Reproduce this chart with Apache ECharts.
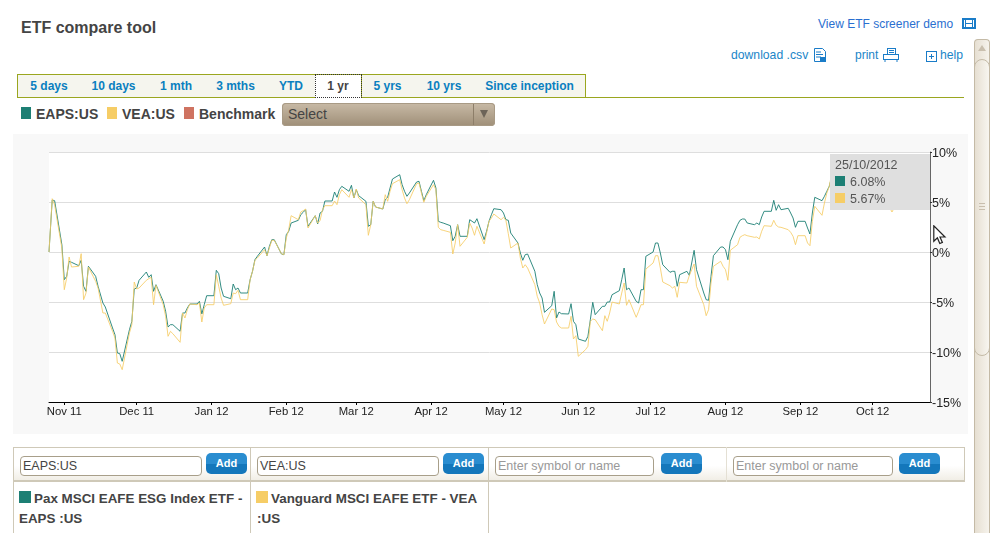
<!DOCTYPE html>
<html><head><meta charset="utf-8"><title>ETF compare tool</title>
<script src="https://cdn.jsdelivr.net/npm/echarts@6/dist/echarts.min.js"></script>
<style>
html,body{margin:0;padding:0;background:#fff;overflow:hidden;width:997px;height:533px;font-family:"Liberation Sans",Arial,sans-serif;}
.a{position:absolute;white-space:nowrap;}
.lnk{color:#1a85c8;font-size:12px;}
.tab{position:absolute;top:74px;height:22px;line-height:23px;text-align:center;font-size:12px;font-weight:bold;color:#0a7fc0;background:#f5f5ee;border:1px solid #9aa61f;border-left:none;box-sizing:content-box;}
.lg{position:absolute;font-size:14px;font-weight:bold;color:#444;top:106px;}
.sq{position:absolute;width:10px;height:12px;}
.inp{position:absolute;top:456px;height:18px;line-height:18px;border:1px solid #a89f8a;border-radius:4px;background:#fff;font-size:12.5px;color:#444;padding-left:2px;box-sizing:content-box;}
.ph{color:#999;}
.add{position:absolute;top:453px;width:41px;height:21px;line-height:20px;text-align:center;border-radius:5px;color:#fff;font-weight:bold;font-size:11px;background:linear-gradient(#2a8dd0 0,#2a8dd0 50%,#1477bb 52%,#1477bb 100%);}
.vl{position:absolute;width:1px;background:#cfc9b8;}
.nm{position:absolute;font-size:13.4px;font-weight:bold;color:#444;}
</style></head><body>
<div class="a" style="left:21px;top:19px;font-size:16px;font-weight:bold;color:#444;">ETF compare tool</div>
<div class="a" style="left:818px;top:17px;font-size:12px;color:#2a6fd0;">View ETF screener demo</div>
<svg class="a" style="left:962px;top:18px" width="14" height="12"><rect x="1" y="1" width="12" height="9" fill="none" stroke="#1a7cc8" stroke-width="2"/><path d="M3.5 1v9M10.5 1v9M4 5.5h6" stroke="#1a7cc8"/></svg>
<div class="a lnk" style="left:731px;top:48px;font-size:12.2px;">download .csv</div>
<svg class="a" style="left:813px;top:48px" width="14" height="15"><path d="M1.5 .5h8l3 3v10h-11z" fill="#fff" stroke="#1a7cc8"/><path d="M3 4h5M3 6.5h7M3 9h5" stroke="#1a7cc8"/><rect x="7" y="9" width="6" height="5" fill="#1a7cc8"/></svg>
<div class="a lnk" style="left:855px;top:48px;">print</div>
<svg class="a" style="left:883px;top:48px" width="17" height="14"><rect x="4.5" y=".5" width="8" height="6" fill="none" stroke="#1a7cc8"/><path d="M6 2.5h5M6 4.5h5" stroke="#1a7cc8"/><rect x=".5" y="6.5" width="15" height="5" fill="none" stroke="#1a7cc8"/><path d="M2 12v2M14 12v2" stroke="#1a7cc8"/></svg>
<svg class="a" style="left:926px;top:51px" width="12" height="12"><rect x=".5" y=".5" width="10" height="10" fill="none" stroke="#1a7cc8"/><path d="M3 5.5h5M5.5 3v5" stroke="#1a7cc8"/></svg>
<div class="a lnk" style="left:940px;top:48px;font-size:12.2px;">help</div>

<div class="a" style="left:17px;top:97px;width:947px;height:1px;background:#9aa61f;"></div>
<div id="tabs"></div>

<div class="sq" style="left:21px;top:107px;background:#1d7f74;"></div><div class="lg" style="left:36px;">EAPS:US</div>
<div class="sq" style="left:107px;top:107px;background:#f6cd66;"></div><div class="lg" style="left:122px;">VEA:US</div>
<div class="sq" style="left:184px;top:107px;background:#cf7361;"></div><div class="lg" style="left:199px;">Benchmark</div>
<div class="a" style="left:282px;top:103px;width:213px;height:23px;border-radius:4px;background:linear-gradient(#c8baa6,#9f8f78);box-shadow:inset 0 0 0 1px #a89a85;"></div>
<div class="a" style="left:288px;top:106px;font-size:14px;color:#444;">Select</div>
<div class="a" style="left:473px;top:104px;width:1px;height:21px;background:#8d7e69;"></div>
<svg class="a" style="left:480px;top:110px" width="9" height="9"><path d="M0 0h8l-4 8z" fill="#6d6458"/></svg>

<div id="chart" class="a" style="left:13px;top:134px;width:955px;height:300px;"></div>

<svg class="a" style="left:933px;top:225px;z-index:20" width="14" height="20"><path d="M.8 .8v15.5l3.6-3.4 2.4 5.6 2.6-1.1-2.4-5.4h5z" fill="#fff" stroke="#222" stroke-width="1.2"/></svg>

<div class="a" style="left:13px;top:447px;width:952px;height:35px;box-sizing:border-box;border:1px solid #cfc9b8;border-bottom:2px solid #cfc9b8;background:linear-gradient(#fff 55%,#f1eee6);"></div>
<div class="vl" style="left:13px;top:447px;height:86px;"></div>
<div class="vl" style="left:250px;top:447px;height:86px;"></div>
<div class="vl" style="left:488px;top:447px;height:86px;"></div>
<div class="vl" style="left:726px;top:447px;height:35px;background:#e4e0d4;"></div>
<div class="inp" style="left:20px;width:178px;">EAPS:US</div><div class="add" style="left:206px;">Add</div>
<div class="inp" style="left:257px;width:178px;">VEA:US</div><div class="add" style="left:443px;">Add</div>
<div class="inp ph" style="left:495px;width:155px;">Enter symbol or name</div><div class="add" style="left:661px;">Add</div>
<div class="inp ph" style="left:733px;width:156px;">Enter symbol or name</div><div class="add" style="left:899px;">Add</div>
<div class="sq" style="left:19px;top:491px;width:12px;background:#1d7f74;"></div>
<div class="nm" style="left:34px;top:491px;">Pax MSCI EAFE ESG Index ETF -</div>
<div class="nm" style="left:19px;top:511px;">EAPS :US</div>
<div class="sq" style="left:256px;top:491px;width:12px;background:#f6cd66;"></div>
<div class="nm" style="left:271px;top:491px;">Vanguard MSCI EAFE ETF - VEA</div>
<div class="nm" style="left:257px;top:511px;">:US</div>

<div class="a" style="left:974px;top:39px;width:16px;height:494px;box-sizing:border-box;background:linear-gradient(90deg,#e6dfd2,#f6f3ec);border:1px solid #c4baa6;border-bottom:none;border-radius:4px 4px 0 0;"></div>
<svg class="a" style="left:977px;top:44px" width="10" height="8"><path d="M5 1l4 6H1z" fill="#c9bfae"/></svg>
<div class="a" style="left:974px;top:59px;width:16px;height:297px;box-sizing:border-box;background:linear-gradient(90deg,#e6dfd2,#f8f6f0);border:1px solid #c4baa6;border-radius:8px;"></div>
<div class="a" style="left:979px;top:203px;width:6px;height:7px;border-top:1px solid #c9bfae;border-bottom:1px solid #c9bfae;box-sizing:border-box;"></div>
<div class="a" style="left:979px;top:206px;width:6px;height:1px;background:#c9bfae;"></div>

<script>
const tabNames = ['5 days','10 days','1 mth','3 mths','YTD','1 yr','5 yrs','10 yrs','Since inception'];
const tabEdges = [17,79,148,204,267,315,361,414,474,585];

const axisStart = '2011-10-25 16:00';
const axisEnd = '2012-10-24 18:00';
const tickDates = ['2011-11-01','2011-12-01','2012-01-01','2012-02-01','2012-03-01','2012-04-01','2012-05-01','2012-06-01','2012-07-01','2012-08-01','2012-09-01','2012-10-01'];
const tickLabels = ['Nov 11','Dec 11','Jan 12','Feb 12','Mar 12','Apr 12','May 12','Jun 12','Jul 12','Aug 12','Sep 12','Oct 12'];

const dates = ['2011-10-25 16:00','2011-10-27','2011-10-28','2011-10-31','2011-11-01','2011-11-02','2011-11-03','2011-11-04','2011-11-07','2011-11-08','2011-11-09','2011-11-10','2011-11-11','2011-11-14','2011-11-15','2011-11-17','2011-11-18','2011-11-21','2011-11-22','2011-11-23','2011-11-24','2011-11-25','2011-11-28','2011-11-29','2011-11-30',
'2011-12-01','2011-12-02','2011-12-05','2011-12-06','2011-12-07','2011-12-08','2011-12-09','2011-12-12','2011-12-13','2011-12-14','2011-12-15','2011-12-16','2011-12-19','2011-12-20','2011-12-21','2011-12-22','2011-12-23','2011-12-26','2011-12-27','2011-12-28','2011-12-29','2011-12-30',
'2012-01-02','2012-01-03','2012-01-04','2012-01-05','2012-01-06','2012-01-09','2012-01-10','2012-01-11','2012-01-12','2012-01-13','2012-01-16','2012-01-17','2012-01-18','2012-01-19','2012-01-20','2012-01-23','2012-01-24','2012-01-25','2012-01-26','2012-01-27','2012-01-30','2012-01-31',
'2012-02-01','2012-02-02','2012-02-03','2012-02-06','2012-02-07','2012-02-08','2012-02-09','2012-02-10','2012-02-13','2012-02-14','2012-02-15','2012-02-16','2012-02-17','2012-02-20','2012-02-21','2012-02-22','2012-02-23','2012-02-24','2012-02-27','2012-02-28','2012-02-29',
'2012-03-01','2012-03-02','2012-03-05','2012-03-06','2012-03-07','2012-03-08','2012-03-09','2012-03-12','2012-03-13','2012-03-14','2012-03-15','2012-03-16','2012-03-19','2012-03-20','2012-03-21','2012-03-22','2012-03-23','2012-03-26','2012-03-27','2012-03-28','2012-03-29','2012-03-30',
'2012-04-02','2012-04-03','2012-04-04','2012-04-05','2012-04-06','2012-04-09','2012-04-10','2012-04-11','2012-04-12','2012-04-13','2012-04-16','2012-04-17','2012-04-18','2012-04-19','2012-04-20','2012-04-23','2012-04-24','2012-04-25','2012-04-26','2012-04-27','2012-04-30',
'2012-05-01','2012-05-02','2012-05-03','2012-05-04','2012-05-07','2012-05-08','2012-05-09','2012-05-10','2012-05-11','2012-05-14','2012-05-15','2012-05-16','2012-05-17','2012-05-18','2012-05-21','2012-05-22','2012-05-23','2012-05-24','2012-05-25','2012-05-28','2012-05-29','2012-05-30','2012-05-31',
'2012-06-01','2012-06-04','2012-06-05','2012-06-06','2012-06-07','2012-06-08','2012-06-11','2012-06-12','2012-06-13','2012-06-14','2012-06-15','2012-06-18','2012-06-19','2012-06-20','2012-06-21','2012-06-22','2012-06-25','2012-06-26','2012-06-27','2012-06-28','2012-06-29',
'2012-07-02','2012-07-03','2012-07-04','2012-07-05','2012-07-06','2012-07-09','2012-07-10','2012-07-11','2012-07-12','2012-07-13','2012-07-16','2012-07-17','2012-07-18','2012-07-19','2012-07-20','2012-07-23','2012-07-24','2012-07-25','2012-07-26','2012-07-27','2012-07-30','2012-07-31',
'2012-08-01','2012-08-02','2012-08-03','2012-08-06','2012-08-07','2012-08-08','2012-08-09','2012-08-10','2012-08-13','2012-08-14','2012-08-15','2012-08-16','2012-08-17','2012-08-20','2012-08-21','2012-08-22','2012-08-23','2012-08-24','2012-08-27','2012-08-28','2012-08-29','2012-08-30','2012-08-31',
'2012-09-03','2012-09-04','2012-09-05','2012-09-06','2012-09-07','2012-09-10','2012-09-11','2012-09-12','2012-09-13','2012-09-14','2012-09-18','2012-09-21','2012-09-25','2012-09-28','2012-10-02','2012-10-05','2012-10-09','2012-10-11','2012-10-15','2012-10-18','2012-10-22','2012-10-24 18:00'];

const eapsValues = [0,5.2,5.13,0.73,-2.77,-2.43,-0.93,-1.03,-1.37,-0.83,-3.43,-3.93,-1.43,-2.43,-3.43,-5.1,-5.5,-7.6,-8.27,-10.1,-10.17,-10.93,-7.77,-6.93,-3.7,
-3.6,-2.83,-2,-2.53,-2.27,-3.93,-3.27,-4.93,-5.93,-7.5,-7.27,-7.27,-7.93,-6.1,-6.1,-5.6,-5.2,-5.2,-4.93,-6.2,-5.27,-4.37,
-4.37,-1.83,-2.17,-3.6,-4.43,-4.67,-3.2,-3.77,-3.6,-4.1,-4.1,-2.77,-1.93,-0.77,-0.43,0.5,-0.37,0.57,1.23,1.23,-0.2,-0.27,
1.73,2.07,2.9,3.17,3.73,3.97,4.23,2.57,3.63,2.8,3.9,4.07,5.1,5.1,6,5.47,6.23,6.57,6.07,6.67,5.4,
6.23,5.63,5.07,2.57,2.73,5.07,4.5,4.3,5.23,5.47,6.4,7.3,7.73,6.73,6.07,5.57,5.9,7,7.07,6.07,5.13,5.73,
7.17,6.4,3.07,2.97,2.9,2.63,1.13,1.57,2.73,1.57,1.57,3.23,3.07,2.9,3.33,1.23,2.07,3.07,3.73,4.33,4.23,
3.9,3.23,3.17,1.9,0.9,-0.1,-0.83,-0.27,-0.2,-1.93,-3.27,-4.1,-4.6,-6.03,-5.37,-3.93,-6.6,-6,-6.17,-6.2,-5.17,-6.93,-7.27,
-8.7,-8.93,-8.43,-6.77,-5.03,-6.27,-5.43,-5.43,-5,-5,-4.27,-3.87,-2.77,-1.6,-3.77,-3.6,-4.93,-5.1,-3.77,-3.77,-0.43,
0,0.9,0.9,-0.1,-1.27,-2.03,-1.93,-1.93,-3.43,-2.27,-1.93,-2.33,-1.1,0.17,-1.77,-4.1,-4.77,-4.83,-2.43,-0.37,0.5,0.5,
0.23,-0.77,1.07,2.73,3.17,3.3,3.3,2.9,2.73,2.9,2.73,3.5,4.07,4.07,5.17,4.17,4.73,4.23,4.37,3.9,3.4,2.47,3.07,
3.07,2.4,1.8,3.9,5.47,5.13,5.57,6.07,6.57,7.5,7.1,6.9,7.4,6.5,6.9,6.2,5.3,4.6,5.6,6.4,5.7,6.08];

const veaValues = [0,5.33,4.7,0.4,-3.77,-2.6,-0.5,-1.5,-1.43,-0.17,-4.77,-4.1,-1.5,-2.93,-3.6,-6.1,-6.1,-7.93,-8.6,-11.1,-11.2,-11.77,-8.1,-7.27,-3,
-3.7,-3.6,-2.83,-2.67,-2.53,-5.27,-3.33,-5.27,-6.43,-8.43,-7.93,-8.17,-9.03,-6.1,-6.6,-5.77,-5.2,-5.27,-5.1,-7,-5.6,-5.27,
-5.27,-2.27,-3.43,-4.6,-5.33,-5.17,-4.1,-4.17,-3.83,-4.77,-4.77,-2.77,-1.93,-0.83,-0.6,0.23,-0.37,0.4,1.17,1.17,-0.17,-0.27,
1.4,2.23,3.63,3.23,4,4.13,4.3,2.4,3.63,2.9,3.13,4.23,4.63,4.63,5.1,4.73,5.73,6.23,5.47,6.23,5.4,
6.3,5.4,4.73,1.67,2.73,5.07,4.5,4.3,5.73,5.07,6.07,6.83,7.23,6.23,5.4,4.83,5.23,6.83,6.9,5.9,4.97,5.57,
6.73,6.23,2.47,2.23,2.17,1.97,-0.2,0.9,2.73,0.57,1.47,2.9,2.4,1.67,2.57,0.8,1.9,3.07,3.4,3.8,3.23,
3.47,3.17,1.83,0.4,0.9,-0.6,-1.6,-1.27,-1.6,-3.27,-4.43,-5.1,-6.27,-7.2,-5.7,-5.77,-7,-7.43,-7.6,-7.6,-6.43,-8.7,-8.37,
-10.43,-9.77,-9.43,-6.93,-6.7,-6.77,-7.87,-6.37,-6.93,-6.1,-5,-5.2,-4.1,-3.1,-5.33,-4.77,-6.53,-5.93,-5.27,-5.27,-1.7,
-1.1,-0.37,-0.37,-1.6,-3,-3.37,-3.6,-3.43,-4.53,-3.03,-3.1,-2.37,-1.77,-1.2,-3.43,-5.27,-6.37,-5.77,-3.1,-1.43,-0.93,-1.43,
-1.77,-2.83,0.17,0.73,1.47,1.63,1.73,1.63,1.47,1.5,1.3,2.07,2.63,2.57,3.17,2.67,2.5,2.47,2.23,1.97,1.57,0.73,1.63,
1.63,0.9,0.63,3.07,4.57,3.67,4.9,5.9,6.57,7.8,7.4,6.8,7.1,6.2,6.6,5.8,4,4.9,5.7,6.1,5.3,5.67];

const tooltipDate = '25/10/2012';
const yMin = -15, yMax = 10, yStep = 5;

/* tabs */
const tabsEl = document.getElementById('tabs');
tabNames.forEach((n,i)=>{
  const d = document.createElement('div');
  d.className = 'tab';
  d.textContent = n;
  d.style.left = tabEdges[i] + 'px';
  d.style.width = (tabEdges[i+1]-tabEdges[i]) + 'px';
  if(i===0) d.style.borderLeft = '1px solid #9aa61f';
  if(n==='1 yr'){ d.style.background='#fff'; d.style.color='#444'; d.style.borderBottom='1px solid #fff'; d.style.outline='1px dotted #333'; d.style.outlineOffset='-1px'; d.style.zIndex=2; }
  tabsEl.appendChild(d);
});

const toT = s => echarts.number.parseDate(s).getTime();
const tickTimes = tickDates.map(toT);
const chart = echarts.init(document.getElementById('chart'),null,{renderer:'canvas'});
const labelOf = v => { const i = tickTimes.indexOf(+v); return i>=0 ? tickLabels[i] : ''; };
const last = dates.length-1;
const tipFont = '12.5px "Liberation Sans",Arial,sans-serif';
const tipText = (x,y,s)=>({type:'text',x,y,z:100,silent:true,style:{text:s,font:tipFont,fill:'#555',textVerticalAlign:'middle'}});
const tipBox = (x,y,w,h,c)=>({type:'rect',x,y,z:100,silent:true,shape:{width:w,height:h},style:{fill:c}});
chart.setOption({
  animation:false,
  backgroundColor:'#f8f8f8',
  textStyle:{fontFamily:'"Liberation Sans",Arial,sans-serif'},
  grid:{left:36,top:18,width:881,height:250,show:true,backgroundColor:'#fff',borderWidth:0},
  tooltip:{show:false},
  xAxis:{
    type:'value',min:toT(axisStart),max:toT(axisEnd),
    axisLine:{show:true,onZero:false,lineStyle:{color:'#000',width:1}},
    axisTick:{show:true,customValues:tickTimes,length:3,lineStyle:{color:'#000'}},
    axisLabel:{show:true,customValues:tickTimes,formatter:labelOf,color:'#222',fontSize:11.3,margin:4,hideOverlap:false},
    splitLine:{show:false},minorTick:{show:false}
  },
  yAxis:{
    type:'value',position:'right',min:yMin,max:yMax,interval:yStep,
    axisLine:{show:true,onZero:false,lineStyle:{color:'#666',width:1}},
    axisTick:{show:true,length:2,lineStyle:{color:'#333'}},
    axisLabel:{formatter:v=>v+'%',color:'#222',fontSize:12.5,margin:2,verticalAlign:'top',lineHeight:4},
    splitLine:{show:true,lineStyle:{color:'#dedede',width:1}}
  },
  series:[
    {name:'EAPS:US',type:'line',showSymbol:false,symbol:'none',smooth:false,clip:true,silent:true,z:2,
     lineStyle:{color:'#1d7f74',width:1,opacity:.9},itemStyle:{color:'#1d7f74'},
     data:dates.map((d,i)=>[toT(d),eapsValues[i]])},
    {name:'VEA:US',type:'line',showSymbol:false,symbol:'none',smooth:false,clip:true,silent:true,z:3,
     lineStyle:{color:'#f6cd66',width:1,opacity:.85},itemStyle:{color:'#f6cd66'},
     data:dates.map((d,i)=>[toT(d),veaValues[i]])}
  ],
  graphic:{elements:[
    tipBox(817,20,100,56,'#dfdfdf'),
    tipText(822,32,tooltipDate),
    tipBox(822,42,10,10,'#1d7f74'),
    tipText(837,49,eapsValues[last].toFixed(2)+'%'),
    tipBox(822,59,10,10,'#f6cd66'),
    tipText(837,66,veaValues[last].toFixed(2)+'%')
  ]}
});
</script>
</body></html>
